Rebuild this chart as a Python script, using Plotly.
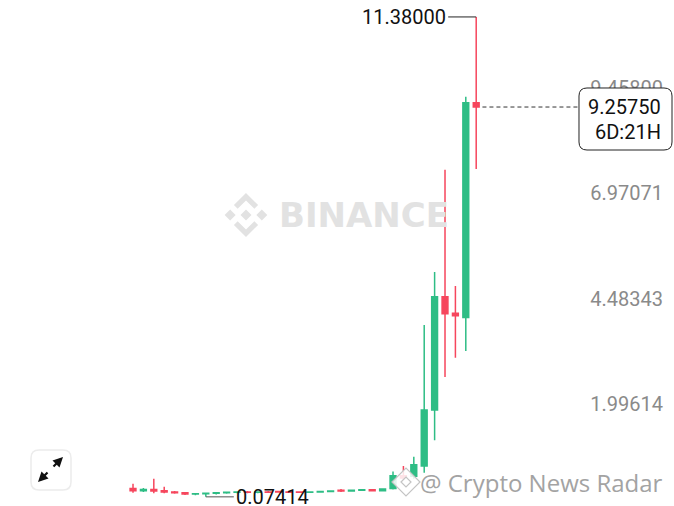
import plotly.graph_objects as go

# weekly candles, oldest first
weeks = list(range(34))
opens = [0.27, 0.22, 0.25, 0.22, 0.19, 0.17, 0.14, 0.15, 0.16, 0.17,
         0.18, 0.19, 0.18, 0.19, 0.20, 0.19, 0.19, 0.18, 0.19, 0.20,
         0.23, 0.21, 0.23, 0.24, 0.22, 0.27, 0.57, 0.56, 0.80, 2.12,
         4.79, 4.40, 4.30, 9.36]
highs = [0.38, 0.28, 0.50, 0.31, 0.21, 0.18, 0.16, 0.17, 0.18, 0.19,
         0.20, 0.21, 0.20, 0.21, 0.22, 0.21, 0.20, 0.20, 0.21, 0.22,
         0.26, 0.24, 0.25, 0.25, 0.27, 0.67, 0.80, 1.02, 4.12, 5.37,
         7.78, 5.04, 9.50, 11.38]
lows = [0.17, 0.19, 0.16, 0.16, 0.15, 0.12, 0.11, 0.07414, 0.13, 0.15,
        0.16, 0.16, 0.16, 0.17, 0.18, 0.17, 0.17, 0.17, 0.18, 0.19,
        0.19, 0.20, 0.21, 0.21, 0.21, 0.25, 0.44, 0.50, 0.64, 1.41,
        2.90, 3.35, 3.51, 7.80]
closes = [0.22, 0.25, 0.21, 0.19, 0.17, 0.14, 0.15, 0.16, 0.17, 0.18,
          0.19, 0.18, 0.19, 0.18, 0.19, 0.18, 0.18, 0.19, 0.20, 0.21,
          0.21, 0.23, 0.24, 0.22, 0.26, 0.57, 0.52, 0.83, 2.12, 4.79,
          4.39, 4.34, 9.36, 9.2575]

tick_vals = [1.99614, 4.48343, 6.97071, 9.45800]
tick_text = ['%.5f' % v for v in tick_vals]
countdown = '6D:21H'

GREEN = '#2EBD85'
RED = '#F6465D'
W, H, R = 674, 506, 8
PW = W - R


def px(x, y):
    # pixel position -> paper coords (plot area = whole height)
    return x / PW, 1 - y / H


def rounded_rect(x0, y0, x1, y1, r):
    pts = [(x0 + r, y0), (x1 - r, y0), (x1, y0), (x1, y0 + r), (x1, y1 - r),
           (x1, y1), (x1 - r, y1), (x0 + r, y1), (x0, y1), (x0, y1 - r),
           (x0, y0 + r), (x0, y0), (x0 + r, y0)]
    p = [px(*q) for q in pts]
    s = 'M %f,%f L %f,%f Q %f,%f %f,%f L %f,%f Q %f,%f %f,%f L %f,%f Q %f,%f %f,%f L %f,%f Q %f,%f %f,%f Z' % tuple(
        v for q in p for v in q)
    return s


def poly(points):
    p = [px(*q) for q in points]
    return 'M ' + ' L '.join('%f,%f' % q for q in p) + ' Z'


def binance_logo(cx, cy, s):
    d = 0.25
    shapes = []
    for ox in (-0.72, 0, 0.72):
        shapes.append([(cx + (ox - d) * s, cy), (cx + ox * s, cy - d * s),
                       (cx + (ox + d) * s, cy), (cx + ox * s, cy + d * s)])
    for sg in (1, -1):
        shapes.append([(cx, cy - sg * 1.0 * s), (cx + 0.55 * s, cy - sg * 0.45 * s),
                       (cx + 0.38 * s, cy - sg * 0.28 * s), (cx, cy - sg * 0.66 * s),
                       (cx - 0.38 * s, cy - sg * 0.28 * s), (cx - 0.55 * s, cy - sg * 0.45 * s)])
    return shapes


fig = go.Figure()
fig.add_trace(go.Candlestick(
    x=weeks, open=opens, high=highs, low=lows, close=closes,
    increasing=dict(line=dict(color=GREEN, width=1.5), fillcolor=GREEN),
    decreasing=dict(line=dict(color=RED, width=1.5), fillcolor=RED),
    whiskerwidth=0, hoverinfo='skip', showlegend=False,
))

shapes = []
for pts in binance_logo(246, 215, 22):
    shapes.append(dict(type='path', xref='paper', yref='paper', path=poly(pts),
                       fillcolor='#e2e2e2', line=dict(width=0), layer='below'))

# last price dashed line and label box
last = len(weeks) - 1
shapes.append(dict(type='line', xref='x', yref='y', x0=last + 0.6, x1=42.9,
                   y0=closes[-1], y1=closes[-1],
                   line=dict(color='#333333', width=1, dash='4px,3px')))
shapes.append(dict(type='path', xref='paper', yref='paper',
                   path=rounded_rect(579, 88, 672, 150, 8),
                   fillcolor='white', line=dict(color='#222222', width=1), layer='above'))
# expand button
shapes.append(dict(type='path', xref='paper', yref='paper',
                   path=rounded_rect(31, 450, 71, 490, 8),
                   fillcolor='white', line=dict(color='#ececec', width=1.5), layer='above'))
# small watermark icon
shapes.append(dict(type='path', xref='paper', yref='paper',
                   path=poly([(392, 482), (406, 468), (420, 482), (406, 496)]),
                   fillcolor='rgba(255,255,255,0.85)', line=dict(color='#c4c4c4', width=1.2), layer='above'))
shapes.append(dict(type='path', xref='paper', yref='paper',
                   path=poly([(401, 482), (406, 477), (411, 482), (406, 487)]),
                   fillcolor='white', line=dict(color='#c4c4c4', width=1.2), layer='above'))

font = 'Roboto, Noto Sans, sans-serif'
annotations = [
    dict(x=0.546, y=1 - 215 / H, xref='paper', yref='paper', text='BINANCE',
         showarrow=False, font=dict(family='DejaVu Sans', size=34, color='#e2e2e2', weight='bold'),
         xanchor='center', yanchor='middle'),
    dict(x=last, y=highs[-1], xref='x', yref='y', text='11.38000',
         showarrow=True, ax=-28, ay=0, xanchor='right', arrowhead=0,
         arrowwidth=1, arrowcolor='#222222', standoff=0,
         font=dict(family=font, size=20, color='#111111')),
    dict(x=7, y=lows[7], xref='x', yref='y', text='%.5f' % lows[7],
         showarrow=True, ax=28, ay=0, xanchor='left', arrowhead=0,
         arrowwidth=1, arrowcolor='#555555', standoff=0,
         font=dict(family=font, size=20, color='#111111')),
    dict(x=663 / PW, y=1 - 107 / H, xref='paper', yref='paper', text='%.5f' % closes[-1],
         showarrow=False, xanchor='right', yanchor='middle',
         font=dict(family=font, size=20, color='#111111')),
    dict(x=663 / PW, y=1 - 132 / H, xref='paper', yref='paper', text=countdown,
         showarrow=False, xanchor='right', yanchor='middle',
         font=dict(family=font, size=20, color='#111111')),
    dict(x=665 / PW, y=1 - 482 / H, xref='paper', yref='paper', text='@ Crypto News Radar',
         showarrow=False, xanchor='right', yanchor='middle',
         font=dict(family='Open Sans', size=24, color='#a3a3a3')),
    dict(x=63 / PW, y=1 - 457 / H, xref='paper', yref='paper', text='',
         showarrow=True, ax=-11, ay=11, arrowhead=2, arrowsize=0.9,
         arrowwidth=2.2, arrowcolor='#111111', standoff=0),
    dict(x=38 / PW, y=1 - 482 / H, xref='paper', yref='paper', text='',
         showarrow=True, ax=11, ay=-11, arrowhead=2, arrowsize=0.9,
         arrowwidth=2.2, arrowcolor='#111111', standoff=0),
]

fig.update_layout(
    width=W, height=H,
    margin=dict(l=0, r=R, t=0, b=0),
    paper_bgcolor='white', plot_bgcolor='white',
    shapes=shapes, annotations=annotations,
    boxgap=0.2,
    xaxis=dict(range=[-12.79, 51.25], visible=False, rangeslider=dict(visible=False)),
    yaxis=dict(range=[-0.1413, 11.779], side='right', ticklabelposition='inside',
               tickvals=tick_vals, ticktext=tick_text, ticklabelshift=-11,
               tickfont=dict(family=font, size=20, color='#8a8a8a'),
               showgrid=False, zeroline=False, showline=False, ticks=''),
)

fig.write_html('out.html', config={'displayModeBar': False},
               post_script="document.body.style.margin='0';")
